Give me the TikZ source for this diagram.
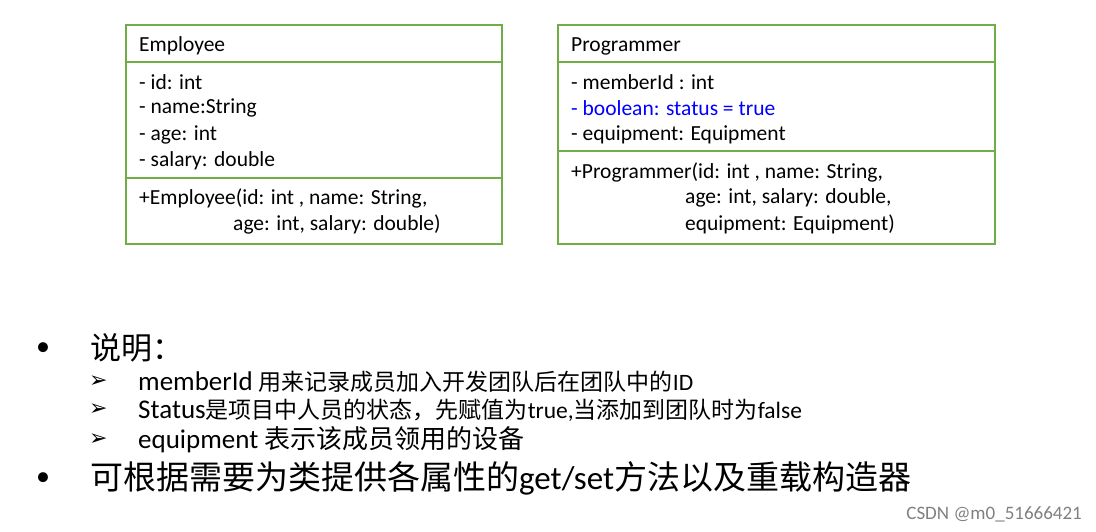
\documentclass[tikz,border=0pt]{standalone}
\usepackage{fontspec}
\setmainfont{Carlito}
\newfontfamily\cjk{Noto Sans CJK SC}
\newfontfamily\djfont{DejaVu Sans}
\definecolor{umlgreen}{HTML}{70AD47}
\begin{document}
\begin{tikzpicture}[x=1pt,y=-1pt,
  box/.style={draw=umlgreen,line width=1.5pt},
  sep/.style={draw=umlgreen,line width=1.2pt},
  t/.style={anchor=west,inner sep=0pt,font=\fontsize{21.5}{24}\selectfont},
  b/.style={anchor=west,inner sep=0pt}]
\useasboundingbox (0,0) rectangle (1096,532);
% Employee
\draw[box] (126,25) rectangle (502,244);
\draw[sep] (126,62) -- (502,62);
\draw[sep] (126,178) -- (502,178);
\node[t] (e0) at (139,46) {Employee};
\node[t] (e1) at (139,82) {- id: int};
\node[t] (e2) at (139,108) {- name:String};
\node[t] (e3) at (139,135) {- age: int};
\node[t] (e4) at (139,161) {- salary: double};
\node[t] (e5) at (139,198) {+Employee(id: int , name: String,};
\node[t] (e6) at (233,224) {age: int, salary: double)};
% Programmer
\draw[box] (558,25) rectangle (995,244);
\draw[sep] (558,62) -- (995,62);
\draw[sep] (558,151) -- (995,151);
\node[t] (p0) at (571,46) {Programmer};
\node[t] (p1) at (571,82) {- memberId : int};
\node[t,text=blue] (p2) at (571,108) {- boolean: status = true};
\node[t] (p3) at (571,135) {- equipment: Equipment};
\node[t] (p4) at (571,172) {+Programmer(id: int , name: String,};
\node[t] (p5) at (685,198) {age: int, salary: double,};
\node[t] (p6) at (685,224) {equipment: Equipment)};
% notes
\node[b,font=\fontsize{28}{32}\selectfont] (d1) at (36,349) {•};
\node[b,font=\cjk\fontsize{31}{34}\selectfont] (n1) at (90,348) {说明：};
\node[b,font=\djfont\fontsize{22}{24}\selectfont] (a1) at (89,382) {➢};
\node[b,font=\djfont\fontsize{22}{24}\selectfont] (a2) at (89,410) {➢};
\node[b,font=\djfont\fontsize{22}{24}\selectfont] (a3) at (89,440) {➢};
\node[b,font=\fontsize{27}{30}\selectfont] (s1) at (138,382) {memberId {\cjk\fontsize{23}{26}\selectfont 用来记录成员加入开发团队后在团队中的}{\fontsize{23.5}{26}\selectfont ID}};
\node[b,font=\fontsize{27}{30}\selectfont] (s2) at (138,410) {Status{\cjk\fontsize{23}{26}\selectfont 是项目中人员的状态，先赋值为}{\fontsize{23.5}{26}\selectfont true,}{\cjk\fontsize{23}{26}\selectfont 当添加到团队时为}{\fontsize{23.5}{26}\selectfont false}};
\node[b,font=\fontsize{27}{30}\selectfont] (s3) at (138,440) {equipment {\cjk\fontsize{26}{30}\selectfont 表示该成员领用的设备}};
\node[b,font=\fontsize{28}{32}\selectfont] (d2) at (36,479) {•};
\node[b,font=\fontsize{33}{36}\selectfont] (n2) at (90,478) {{\cjk 可根据需要为类提供各属性的}get/set{\cjk 方法以及重载构造器}};
\node[b,anchor=east,text=gray,font=\fontsize{19}{21}\selectfont] (wm) at (1082,514) {CSDN @m0\_51666421};
\end{tikzpicture}
\end{document}
